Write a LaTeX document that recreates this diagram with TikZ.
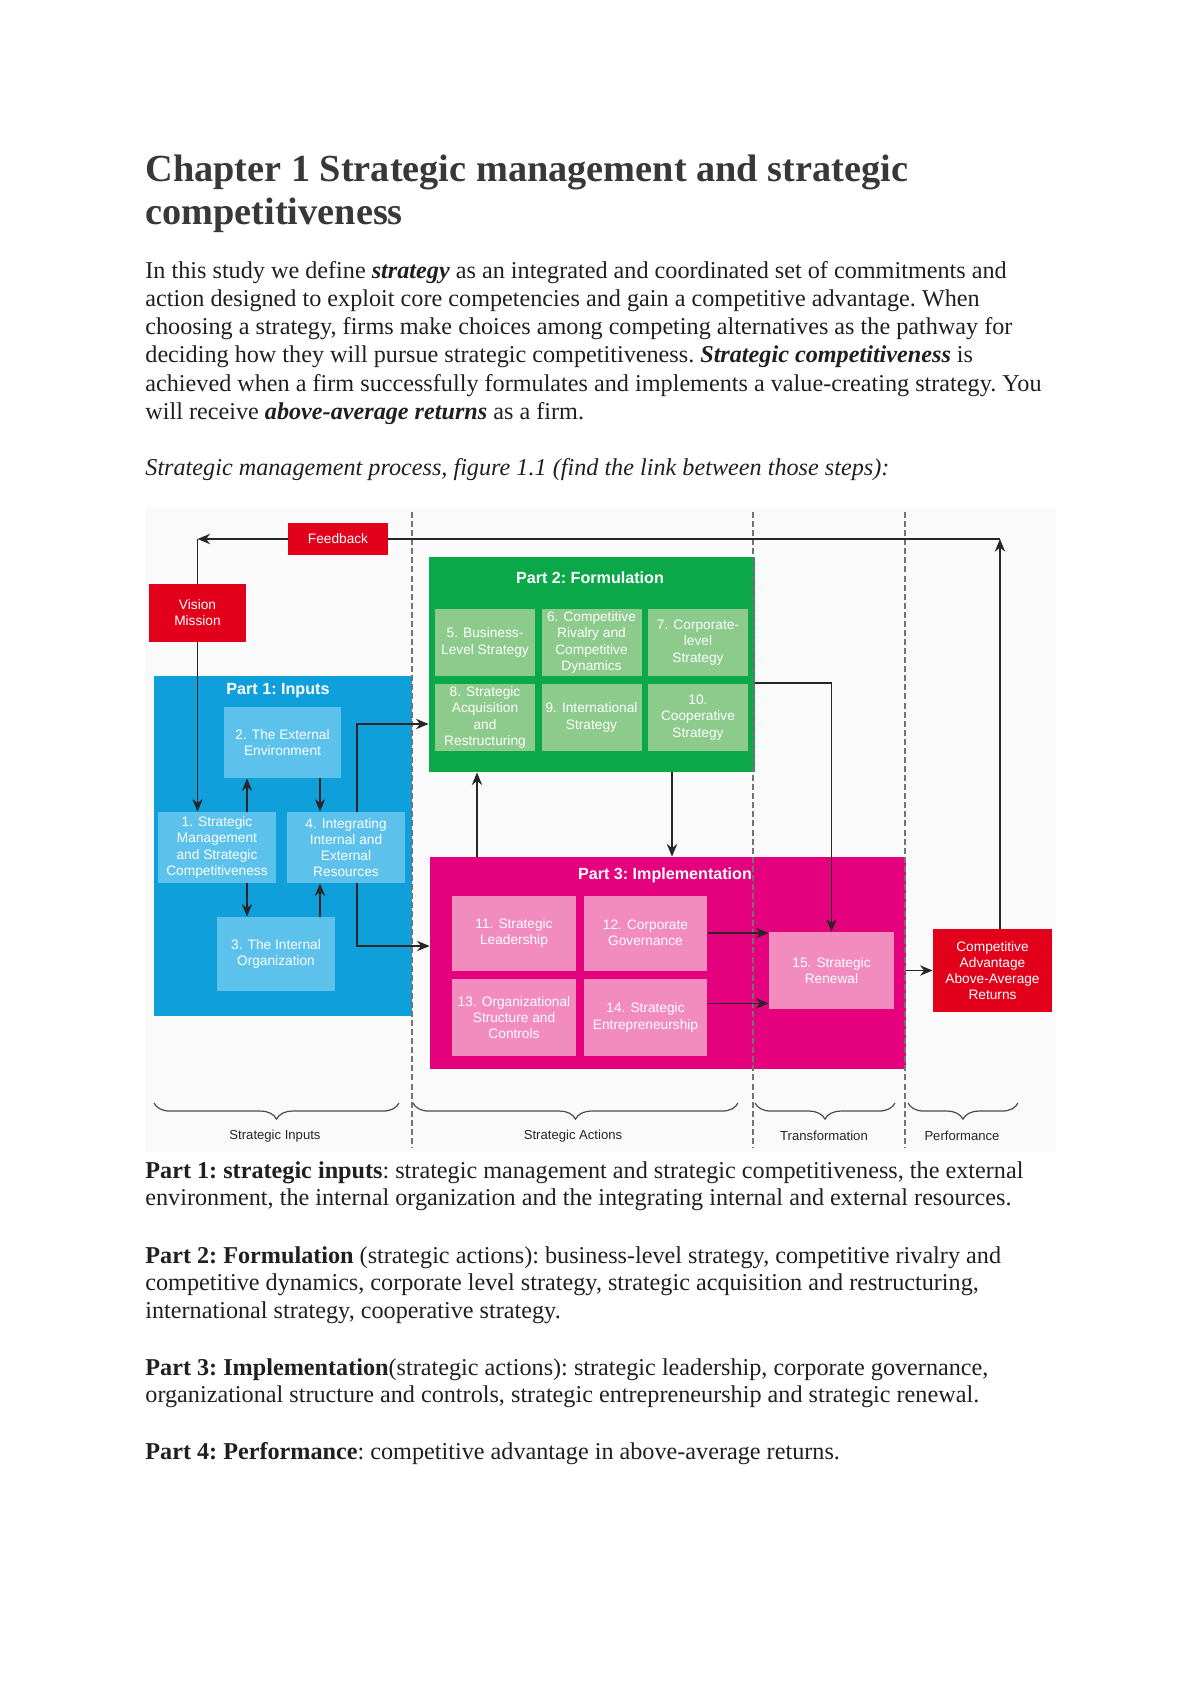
\documentclass[tikz,border=0pt]{standalone}
\usepackage{fontspec}
\setmainfont{Liberation Serif}
\newfontfamily\figfont{Liberation Sans}
\usetikzlibrary{arrows.meta, decorations.pathreplacing}
\definecolor{smblue}{HTML}{0FA0DC}
\definecolor{smbluelt}{HTML}{5CC2EC}
\definecolor{smgreen}{HTML}{0BA84A}
\definecolor{smgreenlt}{HTML}{8CCB8C}
\definecolor{smpink}{HTML}{E5007D}
\definecolor{smpinklt}{HTML}{F28CBE}
\definecolor{smred}{HTML}{E2001A}
\tikzset{
  >={Stealth[length=2.2mm, width=1.8mm]},
  flow/.style={->, line width=0.75pt, draw=black!85},
  link/.style={line width=0.75pt, draw=black!85},
  part/.style={rectangle, inner sep=0pt},
  subbox/.style={rectangle, inner sep=1pt, align=center, text=white,
                 font=\figfont\fontsize{6.8}{8}\selectfont},
  bsub/.style={subbox, fill=smbluelt, minimum width=58.5pt, minimum height=35.2pt},
  gsub/.style={subbox, fill=smgreenlt, minimum width=49.6pt, minimum height=33.7pt},
  psub/.style={subbox, fill=smpinklt, minimum width=61.3pt, minimum height=37.2pt},
  redbox/.style={subbox, fill=smred},
  ptitle/.style={text=white, inner sep=0pt, font=\figfont\bfseries\fontsize{8}{9.5}\selectfont\frenchspacing},
  sep/.style={draw=black!55, line width=0.6pt, dash pattern=on 3pt off 1.5pt},
  brace/.style={decorate, decoration={brace, mirror, amplitude=8pt}, draw=black!70, line width=0.6pt},
  blbl/.style={inner sep=0pt, font=\figfont\fontsize{6.5}{8}\selectfont, text=black!85},
  ttl/.style={anchor=base west, inner sep=0pt, font=\bfseries\fontsize{19}{23}\selectfont\frenchspacing, text=black!78},
  txt/.style={anchor=base west, inner sep=0pt, font=\fontsize{12}{14}\selectfont\frenchspacing, text=black!88},
}
\begin{document}
\begin{tikzpicture}[x=0.49606pt, y=-0.49606pt]
  \useasboundingbox (0,0) rectangle (1200,1698);

  % heading and introduction
  \node[ttl] (h1) at (145,181) {Chapter 1 Strategic management and strategic};
  \node[ttl] (h2) at (145,224) {competitiveness};
  \node[txt] (l1) at (145,278) {In this study we define \textbf{\textit{strategy}} as an integrated and coordinated set of commitments and};
  \node[txt] (l2) at (145,306) {action designed to exploit core competencies and gain a competitive advantage. When};
  \node[txt] (l3) at (145,334) {choosing a strategy, firms make choices among competing alternatives as the pathway for};
  \node[txt] (l4) at (145,362) {deciding how they will pursue strategic competitiveness. \textbf{\textit{Strategic competitiveness}} is};
  \node[txt] (l5) at (145,391) {achieved when a firm successfully formulates and implements a value-creating strategy. You};
  \node[txt] (l6) at (145,419) {will receive \textbf{\textit{above-average returns}} as a firm.};
  \node[txt] (cap) at (145,475) {\textit{Strategic management process, figure 1.1 (find the link between those steps):}};

  % figure 1.1
  \fill[black!2] (145,508) rectangle (1056,1152);

  \node[part, fill=smblue, minimum width=128pt, minimum height=168.7pt] (p1) at (283,846) {};
  \node[part, fill=smgreen, minimum width=161.7pt, minimum height=106.7pt] (p2) at (592,664.5) {};
  \node[part, fill=smpink, minimum width=236.1pt, minimum height=105.2pt] (p3) at (668,963) {};

  \foreach \x in {412,753,905}
    \draw[sep] (\x,512) -- (\x,1148);

  \node[ptitle] (p1t) at (278,691) {Part 1: Inputs};
  \node[ptitle] (p2t) at (590,578) {Part 2: Formulation};
  \node[ptitle] (p3t) at (665,875) {Part 3: Implementation};

  \node[bsub] (b2) at (282.5,742.5) {2. The External\\Environment};
  \node[bsub] (b1) at (217,847.5) {1. Strategic\\Management\\and Strategic\\Competitiveness};
  \node[bsub] (b4) at (346,847.5) {4. Integrating\\Internal and\\External\\Resources};
  \node[bsub, minimum height=36.7pt] (b3) at (276,954) {3. The Internal\\Organization};

  \node[gsub] (s5) at (485,642.5) {5. Business-\\Level Strategy};
  \node[gsub] (s6) at (591.5,642.5) {6. Competitive\\Rivalry and\\Competitive\\Dynamics};
  \node[gsub] (s7) at (698,642.5) {7. Corporate-\\level\\Strategy};
  \node[gsub] (s8) at (485,717.5) {8. Strategic\\Acquisition\\and\\Restructuring};
  \node[gsub] (s9) at (591.5,717.5) {9. International\\Strategy};
  \node[gsub] (s10) at (698,717.5) {10.\\Cooperative\\Strategy};

  \node[psub] (s11) at (514,933) {11. Strategic\\Leadership};
  \node[psub] (s12) at (645.5,933) {12. Corporate\\Governance};
  \node[psub, minimum height=38.2pt] (s13) at (514,1017.5) {13. Organizational\\Structure and\\Controls};
  \node[psub, minimum height=38.2pt] (s14) at (645.5,1017.5) {14. Strategic\\Entrepreneurship};
  \node[psub, minimum width=62pt, minimum height=38.2pt] (s15) at (831.5,970.5) {15. Strategic\\Renewal};

  \node[redbox, minimum width=49.6pt, minimum height=15.9pt] (fb) at (338,539) {Feedback};
  \node[redbox, minimum width=48.1pt, minimum height=28.8pt] (vm) at (197.5,613) {Vision\\Mission};
  \node[redbox, minimum width=59pt, minimum height=41.2pt] (perf) at (992.5,970.5) {Competitive\\Advantage\\Above-Average\\Returns};

  % connectors
  \coordinate (cl) at (247,0);
  \coordinate (cr) at (320,0);
  \coordinate (j1) at (357,724);
  \coordinate (j2) at (357,946);
  \coordinate (ua) at (477,0);
  \coordinate (da) at (672,0);
  \coordinate (gr) at (755,683);

  \draw[flow] ([xshift=3.7pt]perf.north) -- ([xshift=3.7pt]perf.north |- fb.east);
  \draw[link] ([xshift=3.7pt]perf.north |- fb.east) -- (fb.east);
  \draw[flow] (fb.west) -- (vm.north |- fb.west);
  \draw[link] (vm.north |- fb.west) -- (vm.north);
  \draw[flow] (vm.south) -- (vm.south |- b1.north);

  \draw[flow] (b1.north -| cl) -- (b2.south -| cl);
  \draw[flow] (b2.south -| cr) -- (b4.north -| cr);
  \draw[flow] (b1.south -| cl) -- (b3.north -| cl);
  \draw[flow] (b3.north -| cr) -- (b4.south -| cr);
  \draw[flow] (b4.north -| j1) |- (p2.west |- j1);
  \draw[flow] (b4.south -| j2) |- (p3.west |- j2);

  \draw[flow] (p3.north -| ua) -- (p2.south -| ua);
  \draw[flow] (p2.south -| da) -- (p3.north -| da);
  \draw[flow] (gr) -| (s15.north);
  \draw[flow] (s12.east) -- (s12.east -| s15.west);
  \draw[flow] ([yshift=7pt]s14.east) -- ([yshift=7pt]s14.east -| s15.west);
  \draw[flow] (p3.east |- perf.west) -- (perf.west);

  % stages
  \draw[brace] (154,1103) -- (399,1103);
  \draw[brace] (413,1103) -- (738,1103);
  \draw[brace] (755,1103) -- (895,1103);
  \draw[brace] (908,1103) -- (1018,1103);
  \node[blbl] (st1) at (275,1136) {Strategic Inputs};
  \node[blbl] (st2) at (573,1136) {Strategic Actions};
  \node[blbl] (st3) at (824,1136) {Transformation};
  \node[blbl] (st4) at (962,1136) {Performance};

  % summary of the parts
  \node[txt] (q1) at (145,1178) {\textbf{Part 1: strategic inputs}: strategic management and strategic competitiveness, the external};
  \node[txt] (q2) at (145,1205) {environment, the internal organization and the integrating internal and external resources.};
  \node[txt] (q3) at (145,1263) {\textbf{Part 2: Formulation} (strategic actions): business-level strategy, competitive rivalry and};
  \node[txt] (q4) at (145,1290) {competitive dynamics, corporate level strategy, strategic acquisition and restructuring,};
  \node[txt] (q5) at (145,1318) {international strategy, cooperative strategy.};
  \node[txt] (q6) at (145,1375) {\textbf{Part 3: Implementation}(strategic actions): strategic leadership, corporate governance,};
  \node[txt] (q7) at (145,1402) {organizational structure and controls, strategic entrepreneurship and strategic renewal.};
  \node[txt] (q8) at (145,1459) {\textbf{Part 4: Performance}: competitive advantage in above-average returns.};
\end{tikzpicture}
\end{document}
